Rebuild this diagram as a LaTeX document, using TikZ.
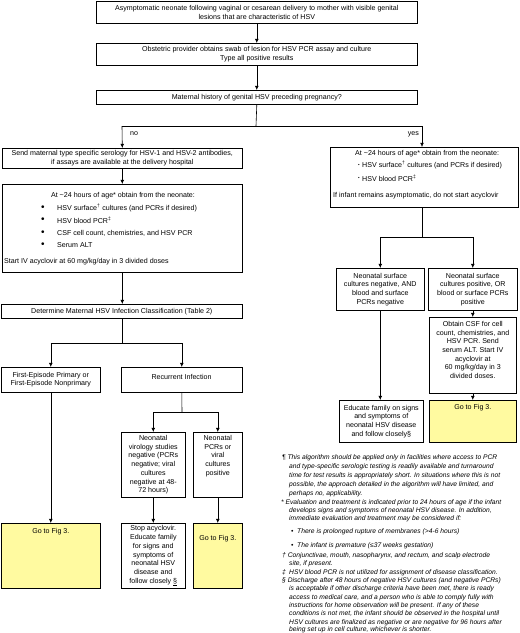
\documentclass[tikz,border=0pt]{standalone}
\usepackage{fontspec}
\setmainfont{Liberation Sans}
\usetikzlibrary{arrows.meta}
\definecolor{goyellow}{RGB}{255,250,160}
\newcommand\bfs{\fontsize{7.1}{8.7}\selectfont}
\newcommand\ffs{\fontsize{6.7}{8.4}\selectfont\itshape}
\tikzset{
  box/.style={draw=black, line width=0.6pt, anchor=north west, inner sep=1pt, align=center, font=\bfs},
  gobox/.style={box, fill=goyellow},
  txt/.style={inner sep=0pt, font=\bfs},
  bigbullet/.style={inner sep=0pt, font=\fontsize{10}{10}\selectfont},
  fn/.style={inner sep=0pt, anchor=base west, font=\ffs},
  conn/.style={line width=0.6pt},
  arr/.style={line width=0.6pt, -{Latex[length=4.2pt,width=3.8pt]}}
}
\begin{document}
\begin{tikzpicture}[x=1pt,y=-1pt]
\useasboundingbox (0,0) rectangle (520,633);
% top chain
\node[box, minimum width=321, minimum height=22] (b1) at (96,1) {Asymptomatic neonate following vaginal or cesarean delivery to mother with visible genital\\lesions that are characteristic of HSV};
\node[box, minimum width=321, minimum height=22] (b2) at (96,43) {Obstetric provider obtains swab of lesion for HSV PCR assay and culture\\Type all positive results};
\node[box, minimum width=321, minimum height=14] (b3) at (96,90) {Maternal history of genital HSV preceding pregnancy?};
\draw[arr] (b1) -- (b2);
\draw[arr] (b2) -- (b3);
\coordinate (split) at (256,126);
\coordinate (nojoin) at (122,126);
\coordinate (yesjoin) at (422,126);
\draw[conn] (b3.south) -- (split);
\draw[conn] (nojoin) -- (yesjoin);
\node[txt, anchor=west] (nolab) at (130,134) {no};
\node[txt, anchor=east] (yeslab) at (419,134) {yes};
% no branch
\node[box, minimum width=240, minimum height=20] (nsend) at (2,148) {Send maternal type specific serology for HSV-1 and HSV-2 antibodies,\\if assays are available at the delivery hospital};
\draw[arr] (nojoin) -- (nsend.north);
\node[box, minimum width=240, minimum height=88] (nat) at (2,184) {};
\draw[arr] (nsend) -- (nat);
\node[txt] (natt) at (123,196) {At \textasciitilde 24 hours of age* obtain from the neonate:};
\node[bigbullet] (natb1) at (43,208) {\textbullet};
\node[bigbullet] (natb2) at (43,220) {\textbullet};
\node[bigbullet] (natb3) at (43,233) {\textbullet};
\node[bigbullet] (natb4) at (43,245) {\textbullet};
\node[txt, anchor=west] (natl1) at (57,208) {HSV surface\textsuperscript{†} cultures (and PCRs if desired)};
\node[txt, anchor=west] (natl2) at (57,220) {HSV blood PCR\textsuperscript{‡}};
\node[txt, anchor=west] (natl3) at (57,233) {CSF cell count, chemistries, and HSV PCR};
\node[txt, anchor=west] (natl4) at (57,245) {Serum ALT};
\node[txt, anchor=west] (natl5) at (4,262) {Start IV acyclovir at 60 mg/kg/day in 3 divided doses};
\node[box, minimum width=241, minimum height=14] (det) at (1,304) {Determine Maternal HSV Infection Classification (Table 2)};
\draw[arr] (nat.south) -- (nat.south |- det.north);
\node[box, minimum width=99, minimum height=25] (first) at (1,367) {First-Episode Primary or\\First-Episode Nonprimary};
\node[box, minimum width=121, minimum height=25] (rec) at (121,367) {};
\node[txt] (rect) at (181.5,377) {Recurrent Infection};
\coordinate (detsplit) at (122,343);
\draw[conn] (det.south -| detsplit) -- (detsplit);
\draw[conn] (first.north |- detsplit) -- (rec.north |- detsplit);
\draw[arr] (first.north |- detsplit) -- (first.north);
\draw[arr] (rec.north |- detsplit) -- (rec.north);
\node[box, minimum width=64, minimum height=65] (viro) at (121,432) {Neonatal\\virology studies\\negative (PCRs\\negative; viral\\cultures\\negative at 48-\\72 hours)};
\node[box, minimum width=49, minimum height=65] (pcrpos) at (193,432) {};
\node[txt, anchor=north, align=center] (pcrpost) at ([yshift=-3pt]pcrpos.north) {Neonatal\\PCRs or\\viral\\cultures\\positive};
\coordinate (recsplit) at (182,412);
\draw[conn] (rec.south) -- (recsplit);
\draw[conn] (viro.north |- recsplit) -- (pcrpos.north |- recsplit);
\draw[arr] (viro.north |- recsplit) -- (viro.north);
\draw[arr] (pcrpos.north |- recsplit) -- (pcrpos.north);
\node[box, minimum width=64, minimum height=65] (stop) at (121,523) {Stop acyclovir.\\Educate family\\for signs and\\symptoms of\\neonatal HSV\\disease and\\follow closely \underline{\S}};
\node[gobox, minimum width=49, minimum height=65] (go2) at (193,523) {};
\node[txt, anchor=north] (go2t) at ([yshift=-12pt]go2.north) {Go to Fig 3.};
\node[gobox, minimum width=99, minimum height=65] (go1) at (1,523) {};
\node[txt, anchor=north] (go1t) at ([yshift=-5pt]go1.north) {Go to Fig 3.};
\draw[arr] (viro) -- (stop);
\draw[arr] (pcrpos) -- (go2);
\draw[arr] (first) -- (go1);
% yes branch
\node[box, minimum width=188, minimum height=60] (yat) at (330,147) {};
\draw[arr] (yesjoin) -- (yesjoin |- yat.north);
\node[txt, anchor=west] (yatt) at (355,154) {At \textasciitilde 24 hours of age* obtain from the neonate:};
\node[txt, font=\fontsize{4.5}{5}\selectfont] (yatb1) at (359,165) {\textbullet};
\node[txt, font=\fontsize{4.5}{5}\selectfont] (yatb2) at (359,178) {\textbullet};
\node[txt, anchor=west] (yatl1) at (362,165) {HSV surface\textsuperscript{†} cultures (and PCRs if desired)};
\node[txt, anchor=west] (yatl2) at (362,178) {HSV blood PCR\textsuperscript{‡}};
\node[txt, anchor=west] (yatl3) at (333,196) {If infant remains asymptomatic, do not start acyclovir};
\node[box, minimum width=88, minimum height=42] (sneg) at (336,268) {Neonatal surface\\cultures negative, AND\\blood and surface\\PCRs negative};
\node[box, minimum width=89, minimum height=42] (spos) at (428,268) {Neonatal surface\\cultures positive, OR\\blood or surface PCRs\\positive};
\coordinate (yessplit) at (422,237);
\draw[conn] (yesjoin |- yat.south) -- (yessplit);
\draw[conn] (sneg.north |- yessplit) -- (spos.north |- yessplit);
\draw[arr] (sneg.north |- yessplit) -- (sneg.north);
\draw[arr] (spos.north |- yessplit) -- (spos.north);
\node[box, minimum width=87, minimum height=76] (csf) at (429,317) {};
\node[txt, anchor=north, align=center] (csft) at ([yshift=-4pt]csf.north) {Obtain CSF for cell\\count, chemistries, and\\HSV PCR. Send\\serum ALT. Start IV\\acyclovir at\\60 mg/kg/day in 3\\divided doses.};
\node[box, minimum width=84, minimum height=42] (edu) at (339,400) {Educate family on signs\\and symptoms of\\neonatal HSV disease\\and follow closely§};
\node[gobox, minimum width=87, minimum height=42] (go3) at (429,400) {};
\node[txt, anchor=north] (go3t) at ([yshift=-4pt]go3.north) {Go to Fig 3.};
\draw[arr] (spos.south) -- (csf.north);
\draw[arr] (sneg.south) -- (sneg.south |- edu.north);
\draw[arr] (csf) -- (go3);
% footnotes
\node[fn] (fn1) at (282,459) {¶ This algorithm should be applied only in facilities where access to PCR};
\node[fn] (fn2) at (289,468) {and type-specific serologic testing is readily available and turnaround};
\node[fn] (fn3) at (289,477) {time for test results is appropriately short. In situations where this is not};
\node[fn] (fn4) at (289,486) {possible, the approach detailed in the algorithm will have limited, and};
\node[fn] (fn5) at (289,495) {perhaps no, applicability.};
\node[fn] (fn6) at (281,504) {* Evaluation and treatment is indicated prior to 24 hours of age if the infant};
\node[fn] (fn7) at (289,512) {develops signs and symptoms of neonatal HSV disease. In addition,};
\node[fn] (fn8) at (289,520) {immediate evaluation and treatment may be considered if:};
\node[fn] (fn9b) at (291,533) {\textbullet};
\node[fn] (fn9) at (297,533) {There is prolonged rupture of membranes (>4-6 hours)};
\node[fn] (fn10b) at (291,547) {\textbullet};
\node[fn] (fn10) at (297,547) {The infant is premature (≤37 weeks gestation)};
\node[fn] (fn11) at (282,557) {† Conjunctivae, mouth, nasopharynx, and rectum, and scalp electrode};
\node[fn] (fn12) at (289,565) {site, if present.};
\node[fn] (fn13m) at (282,574) {‡};
\node[fn] (fn13) at (289,574) {HSV blood PCR is not utilized for assignment of disease classification.};
\node[fn] (fn14) at (282,582) {§ Discharge after 48 hours of negative HSV cultures (and negative PCRs)};
\node[fn] (fn15) at (289,590) {is acceptable if other discharge criteria have been met, there is ready};
\node[fn] (fn16) at (289,599) {access to medical care, and a person who is able to comply fully with};
\node[fn] (fn17) at (289,607) {instructions for home observation will be present. If any of these};
\node[fn] (fn18) at (289,615) {conditions is not met, the infant should be observed in the hospital until};
\node[fn] (fn19) at (289,624) {HSV cultures are finalized as negative or are negative for 96 hours after};
\node[fn] (fn20) at (289,631) {being set up in cell culture, whichever is shorter.};
\end{tikzpicture}
\end{document}
